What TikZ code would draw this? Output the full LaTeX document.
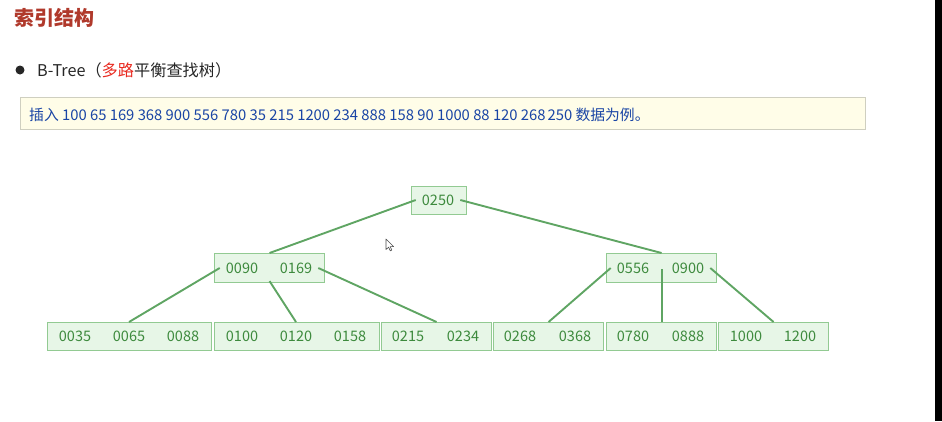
\documentclass[tikz,border=0pt]{standalone}
\usepackage{fontspec}
\setmainfont{Noto Sans CJK SC}
\usetikzlibrary{calc}
\definecolor{titlered}{HTML}{B0392B}
\definecolor{hired}{HTML}{E8281E}
\definecolor{bluetext}{HTML}{1A45A5}
\definecolor{yfill}{HTML}{FFFDE8}
\definecolor{yline}{HTML}{CFCFC0}
\definecolor{boxfill}{HTML}{E7F6E7}
\definecolor{boxline}{HTML}{92CA92}
\definecolor{keytext}{HTML}{3D8A3D}
\definecolor{linkc}{HTML}{5FA563}
\begin{document}
\begin{tikzpicture}[x=1pt,y=-1pt,
  box/.style={draw=boxline, fill=boxfill, line width=1.1pt, inner sep=0pt, anchor=north west},
  key/.style={text=keytext, font=\fontsize{14.5}{14.5}\selectfont, inner xsep=6pt, inner ysep=1pt},
  link/.style={draw=linkc, line width=1.9pt}]
\useasboundingbox (0,0) rectangle (942,421);
\fill[black] (935,0) rectangle (942,421);
% header
\node[anchor=west, inner sep=0pt, text=titlered, font=\fontsize{20}{20}\selectfont\bfseries] (title) at (14,18) {索引结构};
\fill[black!85] (20,70) circle (4.5);
\node[anchor=west, inner sep=0pt, text=black!85, font=\fontsize{16.2}{16.2}\selectfont] (bt) at (37,70) {B-Tree（\textcolor{hired}{多路}平衡查找树）};
\node[anchor=north west, draw=yline, fill=yfill, line width=0.8pt, minimum width=845, minimum height=32, inner sep=0pt] (ybox) at (20,97) {};
\node[anchor=west, inner sep=0pt, text=bluetext, font=\fontsize{14.8}{14.8}\selectfont] (ytext) at (29,114.5) {插入 100 65 169 368 900 556 780 35 215 1200 234 888 158 90 1000 88 120 268\hspace{2pt}250 数据为例。};
% tree boxes
\node[box, minimum width=55, minimum height=28] (root) at (411,186) {};
\node[box, minimum width=110, minimum height=29] (l2a) at (214,253) {};
\node[box, minimum width=110, minimum height=29] (l2b) at (606,253) {};
\node[box, minimum width=164, minimum height=28] (leaf1) at (47,322) {};
\node[box, minimum width=165, minimum height=28] (leaf2) at (214,322) {};
\node[box, minimum width=110, minimum height=28] (leaf3) at (381,322) {};
\node[box, minimum width=110, minimum height=28] (leaf4) at (493,322) {};
\node[box, minimum width=110, minimum height=28] (leaf5) at (606,322) {};
\node[box, minimum width=110, minimum height=28] (leaf6) at (718,322) {};
% keys
\node[key] (k0250) at (438,200) {0250};
\node[key] (k0090) at (242,268) {0090};
\node[key] (k0169) at (296,268) {0169};
\node[key] (k0556) at (633,268) {0556};
\node[key] (k0900) at (688,268) {0900};
\node[key] (k0035) at (75,336) {0035};
\node[key] (k0065) at (129,336) {0065};
\node[key] (k0088) at (183,336) {0088};
\node[key] (k0100) at (242,336) {0100};
\node[key] (k0120) at (296,336) {0120};
\node[key] (k0158) at (350,336) {0158};
\node[key] (k0215) at (408,336) {0215};
\node[key] (k0234) at (463,336) {0234};
\node[key] (k0268) at (520,336) {0268};
\node[key] (k0368) at (575,336) {0368};
\node[key] (k0780) at (633,336) {0780};
\node[key] (k0888) at (688,336) {0888};
\node[key] (k1000) at (746,336) {1000};
\node[key] (k1200) at (800,336) {1200};
% connectors
\coordinate (ma) at ($(l2a.south)+(0,-2)$);
\coordinate (mb) at ($(l2b.center)+(0.5,1)$);
\coordinate (mbe) at ($(leaf5.north)+(0.5,0)$);
\draw[link] (k0250.west) -- (l2a.north);
\draw[link] (k0250.east) -- (l2b.north);
\draw[link] (k0090.west) -- (k0065 |- leaf1.north);
\draw[link] (ma) -- (k0120 |- leaf2.north);
\draw[link] (k0169.east) -- (leaf3.north);
\draw[link] (k0556.west) -- (leaf4.north);
\draw[link] (mb) -- (mbe);
\draw[link] (k0900.east) -- (leaf6.north);
% mouse cursor
\draw[fill=white, draw=black!70, line width=0.6pt, line join=round]
  (386,239) -- (386,249.5) -- (388.6,247.2) -- (390.3,250.8) -- (391.8,250.1) -- (390.2,246.6) -- (393.6,246.6) -- cycle;
\end{tikzpicture}
\end{document}
